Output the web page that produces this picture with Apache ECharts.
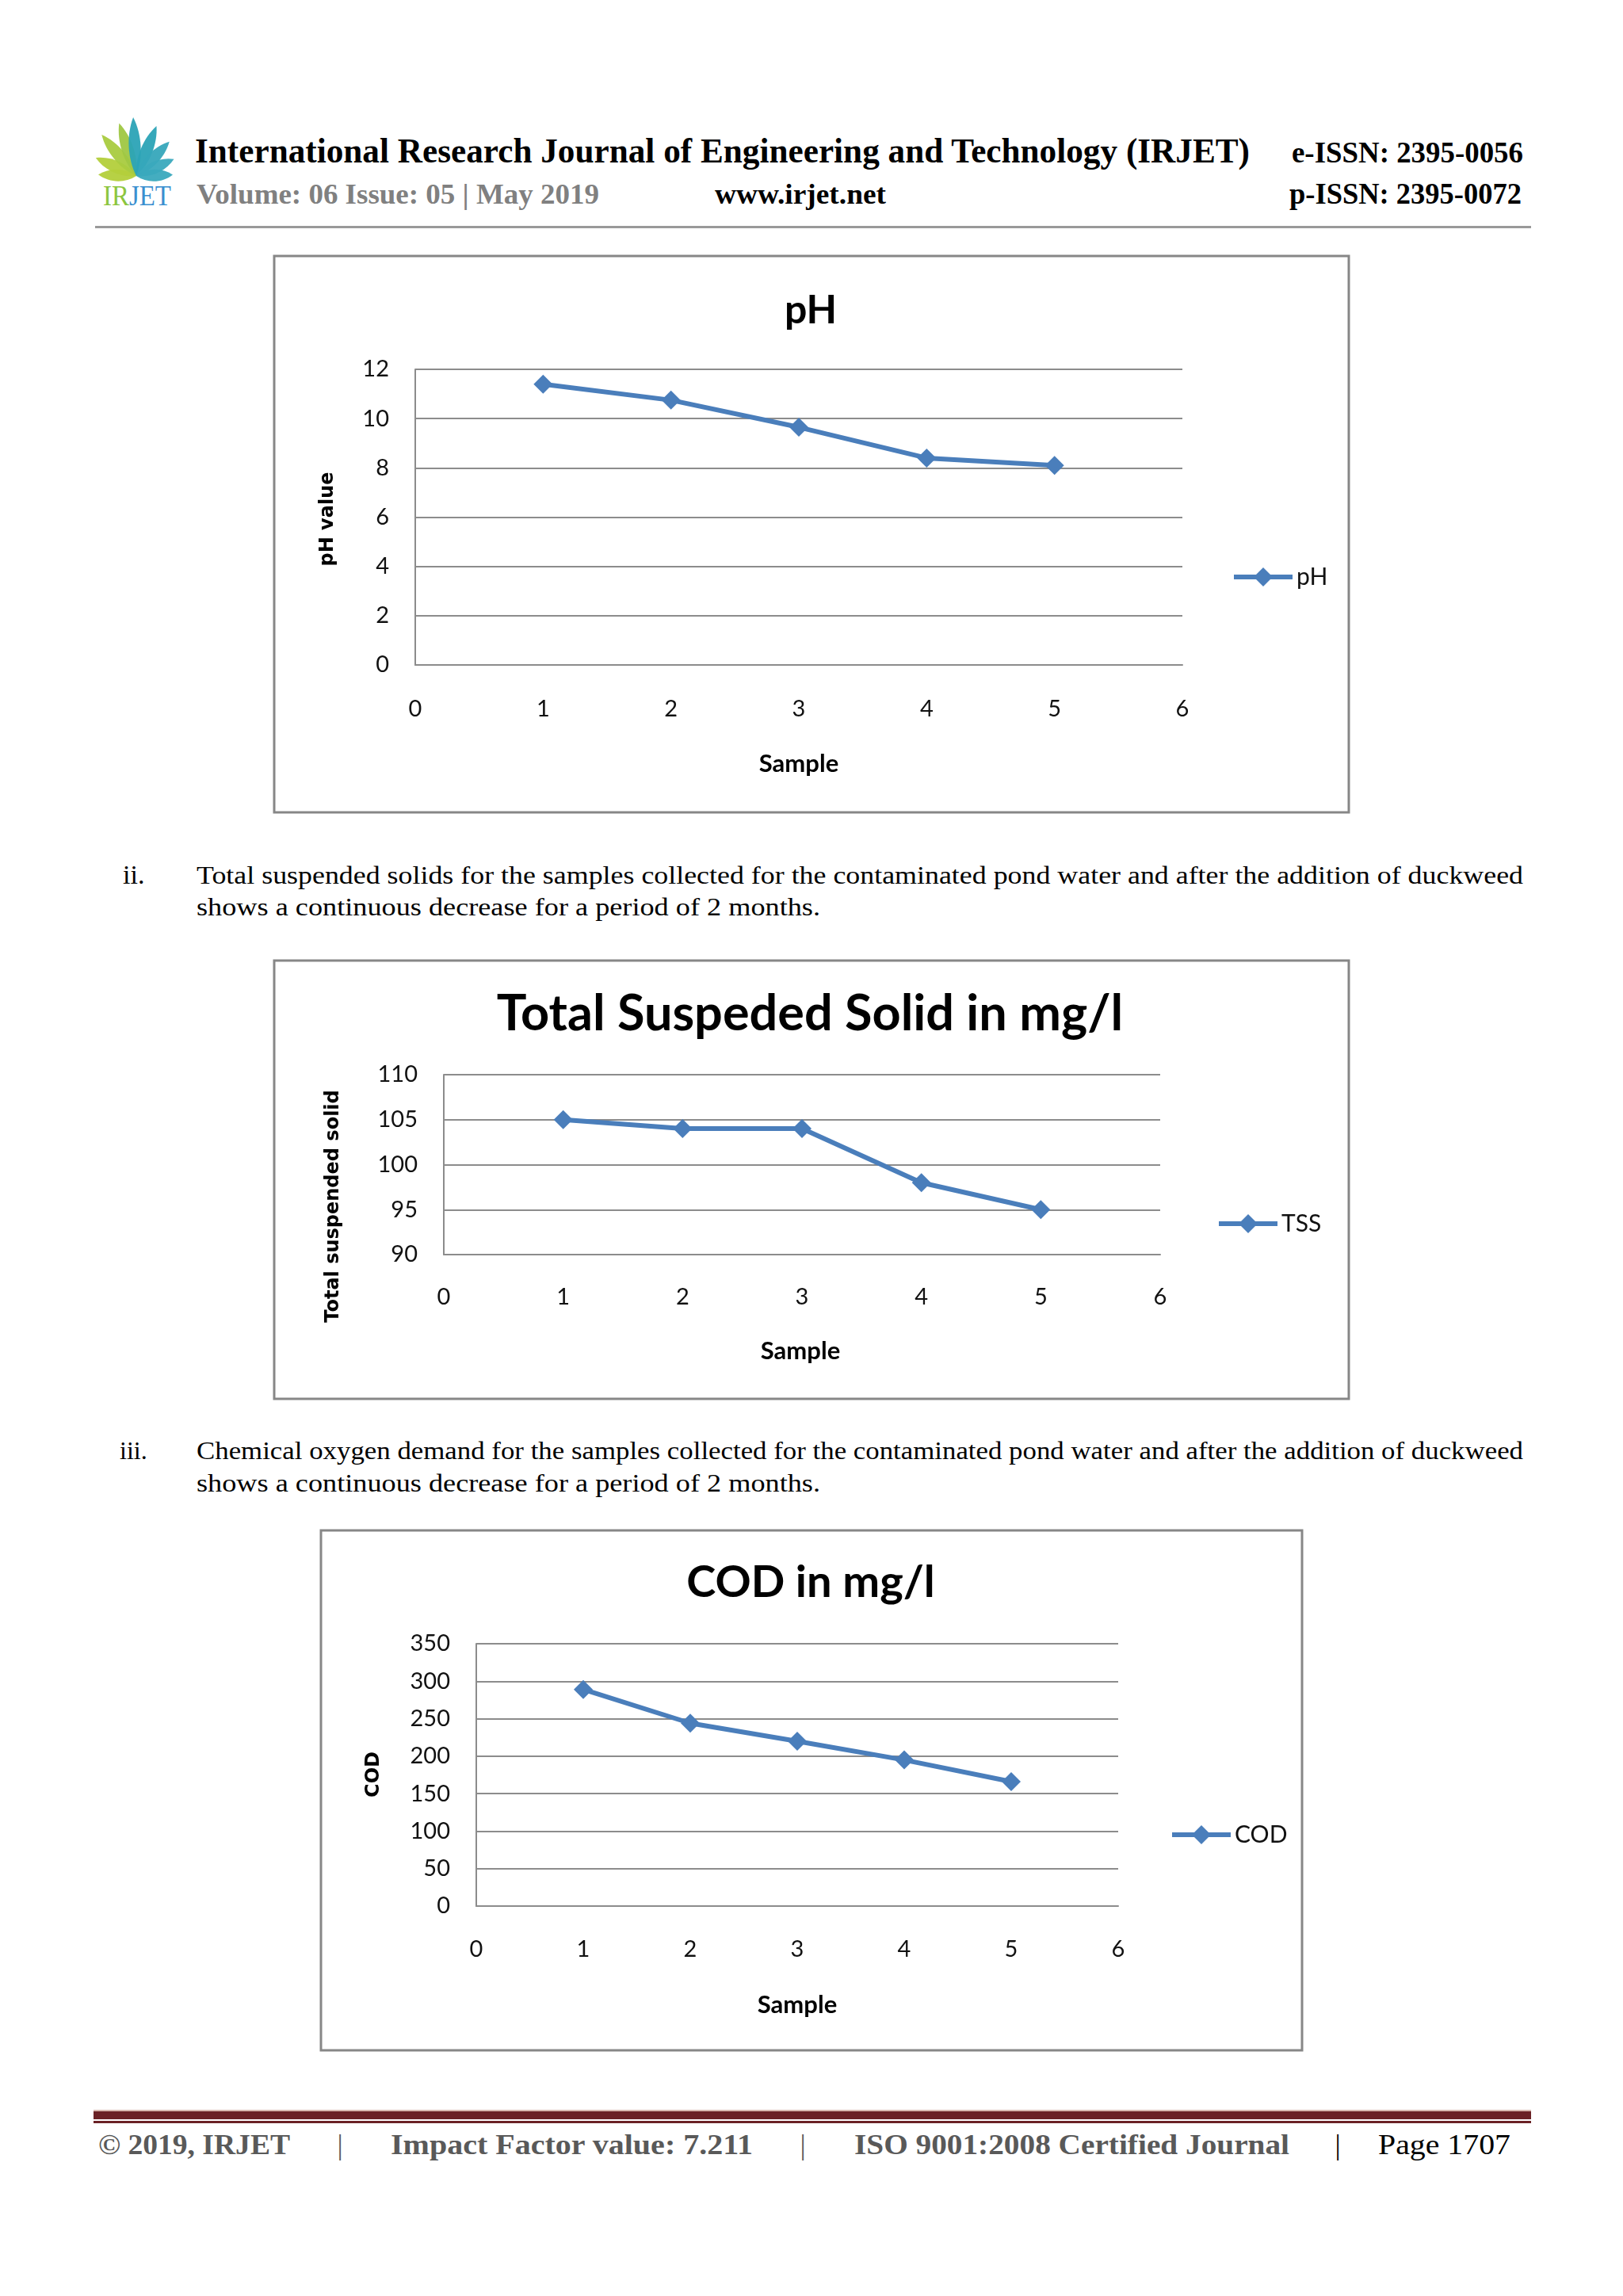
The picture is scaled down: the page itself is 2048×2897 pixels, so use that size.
<!DOCTYPE html>
<html>
<head>
<meta charset="utf-8">
<script src="https://cdn.jsdelivr.net/npm/echarts@6/dist/echarts.min.js"></script>
<style>
html,body{margin:0;padding:0;background:#fff;}
#page{position:relative;width:2048px;height:2897px;overflow:hidden;background:#fff;}
#bg,#chart{position:absolute;left:0;top:0;width:2048px;height:2897px;}
</style>
</head>
<body>
<div id="page">
<svg id="bg" width="2048" height="2897" xmlns="http://www.w3.org/2000/svg">
  <g id="logo"></g>
  <text x="246" y="205" font-family="Liberation Serif" font-weight="bold" font-size="44" fill="#000" textLength="1331" lengthAdjust="spacingAndGlyphs">International Research Journal of Engineering and Technology (IRJET)</text>
  <text x="1630" y="205" font-family="Liberation Serif" font-weight="bold" font-size="38" fill="#000" textLength="292" lengthAdjust="spacingAndGlyphs">e-ISSN: 2395-0056</text>
  <text x="248" y="257" font-family="Liberation Serif" font-weight="bold" font-size="35" fill="#808080" textLength="508" lengthAdjust="spacingAndGlyphs">Volume: 06 Issue: 05 | May 2019</text>
  <text x="902" y="257" font-family="Liberation Serif" font-weight="bold" font-size="35" fill="#000" textLength="216" lengthAdjust="spacingAndGlyphs">www.irjet.net</text>
  <text x="1627" y="257" font-family="Liberation Serif" font-weight="bold" font-size="38" fill="#000" textLength="293" lengthAdjust="spacingAndGlyphs">p-ISSN: 2395-0072</text>
  <rect x="120" y="285" width="1812" height="3" fill="#999999"/>

  <rect x="346" y="323" width="1356" height="702" fill="#fff" stroke="#878787" stroke-width="3"/>
  <rect x="346" y="1212" width="1356" height="553" fill="#fff" stroke="#878787" stroke-width="3"/>
  <rect x="405" y="1931" width="1238" height="656" fill="#fff" stroke="#878787" stroke-width="3"/>

  <text x="155" y="1115" font-family="Liberation Serif" font-size="34" fill="#000">ii.</text>
  <text x="248" y="1115" font-family="Liberation Serif" font-size="32" fill="#000" textLength="1674" lengthAdjust="spacingAndGlyphs">Total suspended solids for the samples collected for the contaminated pond water and after the addition of duckweed</text>
  <text x="248" y="1155" font-family="Liberation Serif" font-size="32" fill="#000" textLength="787" lengthAdjust="spacingAndGlyphs">shows a continuous decrease for a period of 2 months.</text>

  <text x="151" y="1841" font-family="Liberation Serif" font-size="32" fill="#000">iii.</text>
  <text x="248" y="1841" font-family="Liberation Serif" font-size="32" fill="#000" textLength="1674" lengthAdjust="spacingAndGlyphs">Chemical oxygen demand for the samples collected for the contaminated pond water and after the addition of duckweed</text>
  <text x="248" y="1882" font-family="Liberation Serif" font-size="32" fill="#000" textLength="787" lengthAdjust="spacingAndGlyphs">shows a continuous decrease for a period of 2 months.</text>

  <rect x="118" y="2662" width="1814" height="2" fill="#d9b9b0"/>
  <rect x="118" y="2664" width="1814" height="10" fill="#6b2226"/>
  <rect x="118" y="2676" width="1814" height="3" fill="#6b2226"/>
  <g font-family="Liberation Serif" font-weight="bold" font-size="36" fill="#595959">
    <text x="124" y="2718" textLength="242" lengthAdjust="spacingAndGlyphs">© 2019, IRJET</text>
    <text x="429" y="2718" text-anchor="middle" font-weight="normal">|</text>
    <text x="493" y="2718" textLength="457" lengthAdjust="spacingAndGlyphs">Impact Factor value: 7.211</text>
    <text x="1013" y="2718" text-anchor="middle" font-weight="normal">|</text>
    <text x="1078" y="2718" textLength="549" lengthAdjust="spacingAndGlyphs">ISO 9001:2008 Certified Journal</text>
    <text x="1688" y="2718" text-anchor="middle" font-weight="normal" fill="#000">|</text>
    <text x="1739" y="2718" font-weight="normal" fill="#000" textLength="167" lengthAdjust="spacingAndGlyphs">Page 1707</text>
  </g>
</svg>
<div id="chart"></div>
</div>
<script>
// ---------------- data ----------------
const samples = [1, 2, 3, 4, 5];
const phValues = [11.4, 10.75, 9.65, 8.4, 8.1];
const tssValues = [105, 104, 104, 98, 95];
const codValues = [289, 244, 220, 195, 166];
const xRange = [0, 6, 1];           // min, max, interval for "Sample"
const phRange = [0, 12, 2];
const tssRange = [90, 110, 5];
const codRange = [0, 350, 50];
const chartTitles = ['pH', 'Total Suspeded Solid in mg/l', 'COD in mg/l'];
const yTitles = ['pH value', 'Total suspended solid', 'COD'];
const seriesNames = ['pH', 'TSS', 'COD'];
const xTitle = 'Sample';

// ---------------- logo ----------------
(function () {
  const g = document.getElementById('logo');
  const petals = [
    [-88, 48, '#b3cf3b'], [-66, 56, '#b3cf3b'], [-40, 68, '#a9cb3f'], [-18, 70, '#9fc743'],
    [-3, 74, '#2ba3b6'], [22, 68, '#2ba3b6'], [44, 60, '#36a7bb'], [66, 52, '#3aa9bd'], [88, 46, '#3aa9bd']
  ];
  let html = '';
  petals.forEach(function (p) {
    const L = p[1], w = 10;
    html += '<path transform="translate(172,222) rotate(' + p[0] + ')" d="M0,0 C' + w + ',' + (-L * 0.3) + ' ' + w + ',' + (-L * 0.7) + ' 0,' + (-L) + ' C' + (-w) + ',' + (-L * 0.7) + ' ' + (-w) + ',' + (-L * 0.3) + ' 0,0Z" fill="' + p[2] + '" opacity="0.95"/>';
  });
  html += '<text x="130" y="259" font-family="Liberation Serif" font-size="36" textLength="86" lengthAdjust="spacingAndGlyphs"><tspan fill="#8cc63e">IR</tspan><tspan fill="#3a8fd0">JET</tspan></text>';
  g.innerHTML = html;
})();

// ---------------- chart ----------------
const layouts = [
  { grid: { left: 524, top: 466, width: 968, height: 373 }, title: [1023, 392, 50], yName: [414, 655], xName: [1008, 964], legend: [1549, 723], labelMargin: 41 },
  { grid: { left: 560, top: 1356, width: 904, height: 227 }, title: [1022, 1280, 63], yName: [421, 1522], xName: [1010, 1705], legend: [1530, 1539], labelMargin: 39 },
  { grid: { left: 601, top: 2074, width: 810, height: 331 }, title: [1023, 1997, 56], yName: [472, 2239], xName: [1006, 2530], legend: [1471, 2310], labelMargin: 40 }
];
const valueSets = [phValues, tssValues, codValues];
const yRanges = [phRange, tssRange, codRange];

const gridColor = '#8c8c8c';
const lineColor = '#4a7ebb';
const labelFont = { fontFamily: 'Lato', fontSize: 29, color: '#111' };

const option = {
  animation: false,
  backgroundColor: 'transparent',
  grid: layouts.map(l => Object.assign({ containLabel: false }, l.grid)),
  xAxis: layouts.map((l, i) => ({
    type: 'value', gridIndex: i, min: xRange[0], max: xRange[1], interval: xRange[2],
    axisLine: { show: true, onZero: false, lineStyle: { color: gridColor, width: 2 } },
    axisTick: { show: false },
    splitLine: { show: false },
    axisLabel: Object.assign({ margin: l.labelMargin }, labelFont)
  })),
  yAxis: layouts.map((l, i) => ({
    type: 'value', gridIndex: i, min: yRanges[i][0], max: yRanges[i][1], interval: yRanges[i][2],
    axisLine: { show: true, lineStyle: { color: gridColor, width: 2 } },
    axisTick: { show: false },
    splitLine: { show: true, lineStyle: { color: gridColor, width: 2 } },
    axisLabel: Object.assign({ margin: 33 }, labelFont)
  })),
  legend: layouts.map((l, i) => ({
    data: [seriesNames[i]],
    left: l.legend[0], top: l.legend[1] - 15,
    itemWidth: 74, itemHeight: 30, itemGap: 5,
    lineStyle: { width: 6 },
    textStyle: { fontFamily: 'Lato', fontSize: 30, color: '#111', lineHeight: 30, padding: [0, 0, 0, 0] }
  })),
  series: valueSets.map((vals, i) => ({
    name: seriesNames[i], type: 'line', xAxisIndex: i, yAxisIndex: i,
    data: samples.map((s, k) => [s, vals[k]]),
    symbol: 'diamond', symbolSize: 24, showSymbol: true,
    lineStyle: { color: lineColor, width: 6 },
    itemStyle: { color: lineColor }
  })),
  graphic: [].concat(
    layouts.map((l, i) => ({
      type: 'text', x: l.title[0], y: l.title[1],
      style: { text: chartTitles[i], font: 'bold ' + l.title[2] + 'px Lato', fill: '#000', textAlign: 'center', textVerticalAlign: 'middle' }
    })),
    layouts.map((l, i) => ({
      type: 'text', x: l.yName[0], y: l.yName[1], rotation: Math.PI / 2,
      style: { text: yTitles[i], font: 'bold 24px "DejaVu Sans"', fill: '#000', textAlign: 'center', textVerticalAlign: 'middle' }
    })),
    layouts.map((l) => ({
      type: 'text', x: l.xName[0], y: l.xName[1],
      style: { text: xTitle, font: 'bold 31px Lato', fill: '#000', textAlign: 'center', textVerticalAlign: 'middle' }
    }))
  )
};

const chart = echarts.init(document.getElementById('chart'), null, { renderer: 'canvas', width: 2048, height: 2897 });
chart.setOption(option);
</script>
</body>
</html>
